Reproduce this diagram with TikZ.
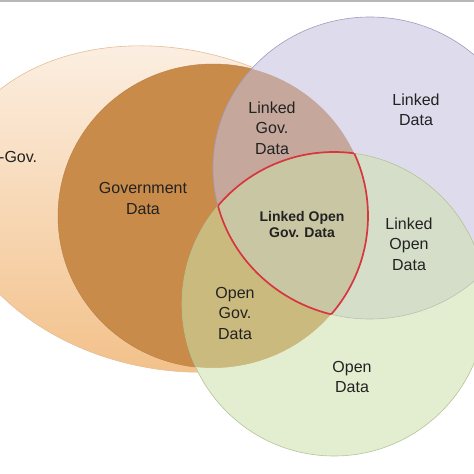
\documentclass[tikz,border=0pt]{standalone}
\usepackage{fontspec}
\setmainfont{Liberation Sans}
\definecolor{peachtop}{RGB}{252,241,230}
\definecolor{peachbot}{RGB}{243,194,140}
\definecolor{peachedge}{RGB}{228,190,150}
\definecolor{govbrown}{RGB}{201,139,74}
\definecolor{lavfill}{RGB}{195,191,224}
\definecolor{lavedge}{RGB}{160,156,190}
\definecolor{grnfill}{RGB}{205,225,170}
\definecolor{grnedge}{RGB}{180,196,150}
\definecolor{lodred}{RGB}{214,55,62}
\definecolor{txt}{RGB}{34,34,34}
\definecolor{topbar}{RGB}{184,184,184}
\tikzset{
  lbl/.style={text=txt, align=center, font=\fontsize{16}{20.5}\selectfont, inner sep=0pt},
  lblbold/.style={text=txt, align=center, font=\bfseries\fontsize{14}{16}\selectfont, inner sep=0pt},
  redline/.style={draw=lodred, line width=1.7pt},
}
\newcommand{\govshape}{(213,216) ellipse[x radius=155pt, y radius=152pt]}
\newcommand{\linkshape}{(370,168) ellipse[x radius=157pt, y radius=151pt]}
\newcommand{\openshape}{(334,304) circle[radius=152pt]}
\begin{document}
\begin{tikzpicture}[x=1pt,y=-1pt]
\useasboundingbox (0,0) rectangle (474,474);
\begin{scope}
\clip (0,0) rectangle (474,474);
% E-Gov outer ellipse
\path[rotate around={-12:(170,209)}, top color=peachtop, bottom color=peachbot, draw=peachedge, line width=0.6pt]
  (170,209) ellipse[x radius=222pt, y radius=160pt];
% Government data
\path[fill=govbrown, draw=govbrown!92!black, line width=0.4pt] \govshape;
% white underlay of Linked / Open data outside Government data
\begin{scope}[even odd rule]
  \clip (-10,-10) rectangle (484,484) \govshape;
  \fill[white] \linkshape;
  \fill[white] \openshape;
\end{scope}
% Linked data
\path[fill=lavfill, fill opacity=0.55] \linkshape;
\path[draw=lavedge, line width=0.6pt] \linkshape;
% Open data
\path[fill=grnfill, fill opacity=0.55] \openshape;
\path[draw=grnedge, line width=0.6pt] \openshape;
% Linked Open Gov. Data outline
\begin{scope}
  \clip \govshape; \clip \linkshape;
  \path[redline] \openshape;
\end{scope}
\begin{scope}
  \clip \govshape; \clip \openshape;
  \path[redline] \linkshape;
\end{scope}
\begin{scope}
  \clip \linkshape; \clip \openshape;
  \path[redline] \govshape;
\end{scope}
% top bar
\fill[topbar] (0,0) rectangle (474,2.3);
\end{scope}
% labels
\node[lbl, anchor=west] (egov) at (-1,157) {-Gov.};
\node[lbl] (gov) at (143,198.5) {Government\\Data};
\node[lbl] (lgd) at (272,128) {Linked\\Gov.\\Data};
\node[lbl] (ld) at (416,110) {Linked\\Data};
\node[lblbold] (logd) at (302,224) {Linked Open\\Gov. Data};
\node[lbl] (lod) at (409,244) {Linked\\Open\\Data};
\node[lbl] (ogd) at (235,313) {Open\\Gov.\\Data};
\node[lbl] (od) at (352,377) {Open\\Data};
\end{tikzpicture}
\end{document}
